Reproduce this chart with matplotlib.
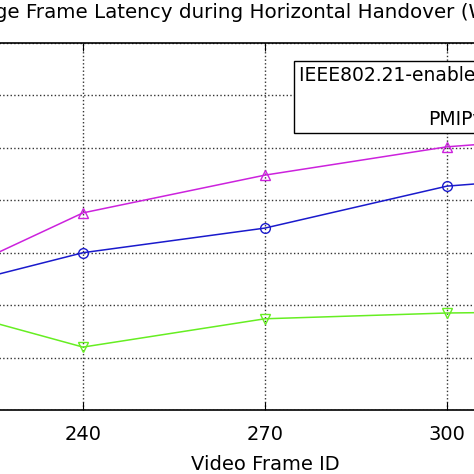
import matplotlib
matplotlib.use("Agg")
import matplotlib.pyplot as plt

frames = [210, 240, 270, 300, 330]
pmip_preho = [2.14, 3.76, 4.48, 5.02, 5.28]   # magenta
pmip = [2.12, 3.00, 3.47, 4.27, 4.54]         # blue
ieee = [2.15, 1.20, 1.74, 1.85, 1.89]         # green
labels = ["IEEE802.21-enabled PMIPv6", "PMIPv6", "PMIPv6-PreHO"]
xticks = [210, 240, 270, 300, 330]

W = 474.0
fig = plt.figure(figsize=(4.74, 4.74), dpi=100)
left, right, top, bottom = -99, 629, 43, 410
ax = fig.add_axes([left / W, (W - bottom) / W, (right - left) / W, (bottom - top) / W])

l1, = ax.plot(frames, ieee, color="#66ee22", marker="v", mfc="none", ms=7, lw=1.1)
l2, = ax.plot(frames, pmip, color="#1a1acc", marker="o", mfc="none", ms=7, lw=1.1)
l3, = ax.plot(frames, pmip_preho, color="#cc22dd", marker="^", mfc="none", ms=7, lw=1.1)

ax.set_xlim(210, 330)
ax.set_ylim(0, 7)
ax.set_xticks(xticks)
ax.set_yticks(range(0, 8))
ax.tick_params(direction="in", length=6, top=True, right=True, labelsize=14, pad=11)
ax.grid(True, linestyle=":", color="#333333", lw=1)
for s in ax.spines.values():
    s.set_linewidth(1.2)
ax.set_xlabel("Video Frame ID", fontsize=14, labelpad=8)

leg = ax.legend([l1, l2, l3], labels, loc="upper left", markerfirst=False,
                bbox_to_anchor=((285 - left) / (right - left), 1 - 9 / (bottom - top)),
                fontsize=13.5, fancybox=False, edgecolor="black", framealpha=1,
                borderpad=0.25, labelspacing=0.15, handlelength=2.0,
                alignment="right")
for t in leg.get_texts():
    t.set_ha("right")
leg._legend_box.align = "right"
leg.get_frame().set_linewidth(1.0)

fig.text(-62 / W, 1 - 13 / W, "Average Frame Latency during Horizontal Handover (WiMAX)",
         ha="left", va="center", fontsize=14.3)

fig.savefig("out.png", dpi=100)
